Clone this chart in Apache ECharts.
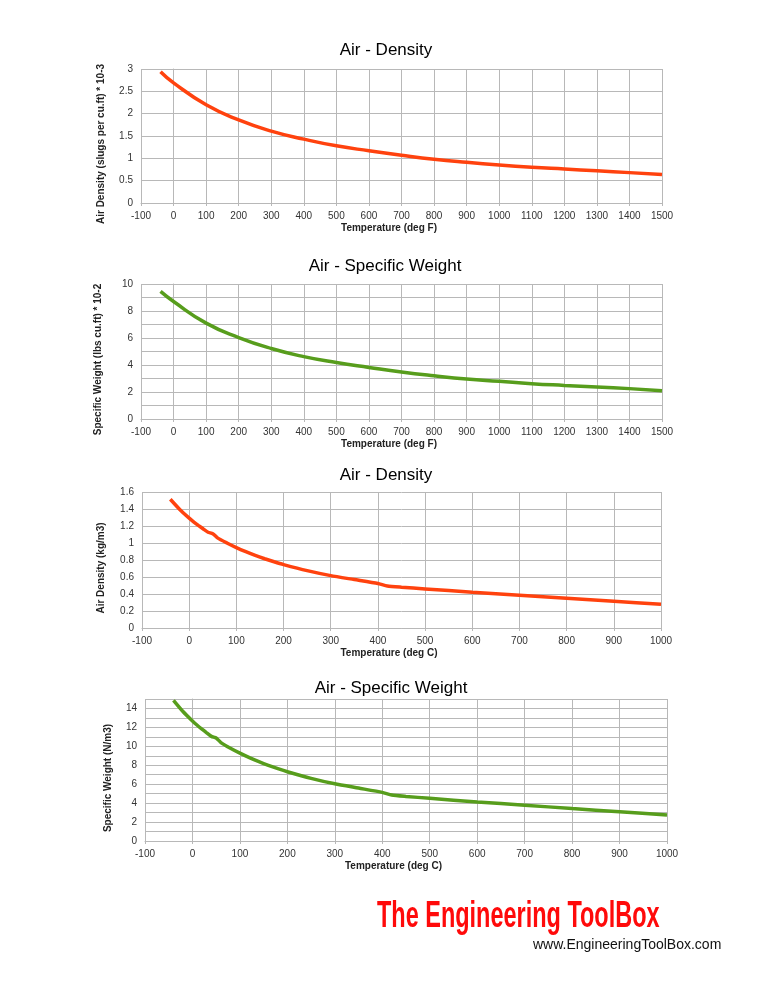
<!DOCTYPE html>
<html>
<head>
<meta charset="utf-8">
<script src="https://cdn.jsdelivr.net/npm/echarts@6/dist/echarts.min.js"></script>
<style>
  html, body { margin: 0; padding: 0; background: #fff; }
  #main { width: 768px; height: 994px; }
</style>
</head>
<body>
<div id="main"></div>
<script>
// deg F charts
var tempF = [-40, 0, 100, 200, 300, 400, 500, 600, 700, 800, 900, 1000, 1100, 1200, 1300, 1400, 1500];
var densityF = [2.94, 2.69, 2.2, 1.86, 1.61, 1.43, 1.28, 1.17, 1.07, 0.98, 0.91, 0.85, 0.8, 0.76, 0.72, 0.68, 0.64];
var weightF = [9.45, 8.7, 7.1, 6.03, 5.22, 4.62, 4.18, 3.82, 3.48, 3.2, 2.96, 2.79, 2.62, 2.49, 2.37, 2.25, 2.1];

// deg C charts
var tempC = [-40, -20, 0, 10, 20, 30, 40, 50, 60, 80, 100, 120, 140, 160, 180, 200, 250, 300, 350, 400, 420, 450, 500, 600, 700, 800, 900, 1000];
var densityC = [1.515, 1.395, 1.293, 1.247, 1.205, 1.165, 1.127, 1.11, 1.06, 1.0, 0.946, 0.898, 0.854, 0.815, 0.779, 0.746, 0.675, 0.616, 0.57, 0.524, 0.495, 0.48, 0.46, 0.42, 0.385, 0.35, 0.315, 0.28];
var weightC = [14.86, 13.68, 12.68, 12.23, 11.82, 11.43, 11.05, 10.88, 10.4, 9.8, 9.28, 8.81, 8.38, 7.99, 7.64, 7.32, 6.62, 6.04, 5.59, 5.14, 4.86, 4.71, 4.51, 4.12, 3.78, 3.43, 3.09, 2.75];

function pairs(xs, ys) {
  return xs.map(function (x, i) { return [x, ys[i]]; });
}

var gridColor = '#b8b8b8';
var labelStyle = { color: '#333', fontSize: 10, fontFamily: 'Liberation Sans' };
var nameStyle = { color: '#222', fontSize: 10, fontWeight: 'bold', fontFamily: 'Liberation Sans' };

function xAxisOf(idx, max, name) {
  return {
    type: 'value', gridIndex: idx, min: -100, max: max, interval: 100,
    name: name, nameLocation: 'middle', nameGap: 20,
    nameTextStyle: Object.assign({ padding: [0, 25, 0, 0] }, nameStyle),
    axisLine: { lineStyle: { color: gridColor } },
    axisTick: { show: true, length: 3, lineStyle: { color: gridColor } },
    axisLabel: Object.assign({ formatter: function (v) { return String(v); } }, labelStyle),
    splitLine: { show: true, lineStyle: { color: gridColor, width: 1 } }
  };
}

function yAxisOf(idx, max, interval, name, gap, labelEvery) {
  return {
    type: 'value', gridIndex: idx, min: 0, max: max, interval: interval,
    name: name, nameLocation: 'middle', nameGap: gap,
    nameTextStyle: Object.assign({ padding: [0, 16, 0, 0] }, nameStyle),
    axisLine: { show: true, lineStyle: { color: gridColor } },
    axisTick: { show: true, length: 4, lineStyle: { color: gridColor } },
    axisLabel: Object.assign({
      margin: 8,
      formatter: function (v) {
        if (labelEvery && Math.round(v) % labelEvery !== 0) return '';
        return String(v);
      }
    }, labelStyle),
    splitLine: { show: true, lineStyle: { color: gridColor, width: 1 } }
  };
}

function titleOf(text, x, y) {
  return {
    text: text, left: x, top: y, textAlign: 'center',
    textStyle: { fontSize: 17, fontWeight: 'normal', color: '#000', fontFamily: 'Liberation Sans' }
  };
}

var chart = echarts.init(document.getElementById('main'));
var option = {
  backgroundColor: '#fff',
  animation: false,
  title: [
    titleOf('Air - Density', 381, 37),
    titleOf('Air - Specific Weight', 380, 253),
    titleOf('Air - Density', 381, 462),
    titleOf('Air - Specific Weight', 386, 675)
  ],
  grid: [
    { left: 141, top: 69, width: 521, height: 134 },
    { left: 141, top: 284, width: 521, height: 135 },
    { left: 142, top: 492, width: 519, height: 136 },
    { left: 145, top: 699, width: 522, height: 142 }
  ],
  xAxis: [
    xAxisOf(0, 1500, 'Temperature (deg F)'),
    xAxisOf(1, 1500, 'Temperature (deg F)'),
    xAxisOf(2, 1000, 'Temperature (deg C)'),
    xAxisOf(3, 1000, 'Temperature (deg C)')
  ],
  yAxis: [
    yAxisOf(0, 3, 0.5, 'Air Density (slugs per cu.ft) * 10-3', 35),
    yAxisOf(1, 10, 1, 'Specific Weight (lbs cu.ft) * 10-2', 38, 2),
    yAxisOf(2, 1.6, 0.2, 'Air Density (kg/m3)', 36),
    yAxisOf(3, 15, 1, 'Specific Weight (N/m3)', 32, 2)
  ],
  series: [
    { type: 'line', xAxisIndex: 0, yAxisIndex: 0, data: pairs(tempF, densityF), smooth: true, showSymbol: false, lineStyle: { color: '#ff420e', width: 3.5 } },
    { type: 'line', xAxisIndex: 1, yAxisIndex: 1, data: pairs(tempF, weightF), smooth: true, showSymbol: false, lineStyle: { color: '#579d1c', width: 3.5 } },
    { type: 'line', xAxisIndex: 2, yAxisIndex: 2, data: pairs(tempC, densityC), smooth: 0.2, showSymbol: false, lineStyle: { color: '#ff420e', width: 3.5 } },
    { type: 'line', xAxisIndex: 3, yAxisIndex: 3, data: pairs(tempC, weightC), smooth: 0.2, showSymbol: false, lineStyle: { color: '#579d1c', width: 3.5 } }
  ],
  graphic: [
    {
      type: 'text', left: 377, top: 899, scaleX: 0.652,
      style: { text: 'The Engineering ToolBox', fill: '#ff0a0a', font: 'bold 36px "Liberation Sans"' }
    },
    {
      type: 'text', left: 533, top: 938,
      style: { text: 'www.EngineeringToolBox.com', fill: '#111', font: '14px "Liberation Sans"' }
    }
  ]
};
chart.setOption(option);
</script>
</body>
</html>
